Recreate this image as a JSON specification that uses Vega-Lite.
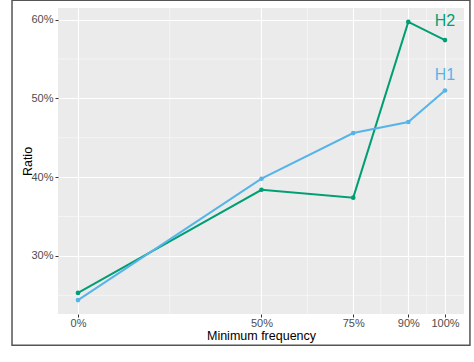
{
  "$schema": "https://vega.github.io/schema/vega-lite/v6.json",
  "width": 406,
  "height": 306,
  "autosize": {"type": "none"},
  "padding": {"left": 58, "top": 8, "right": 10, "bottom": 48},
  "background": "white",
  "config": {
    "view": {"fill": "#EBEBEB", "stroke": null},
    "font": "Liberation Sans",
    "axis": {
      "domain": false,
      "grid": true,
      "gridColor": "white",
      "gridWidth": 1.1,
      "tickColor": "#333333",
      "tickSize": 3,
      "labelColor": "#4D4D4D",
      "labelFontSize": 11,
      "labelFont": "Liberation Sans",
      "titleFont": "Liberation Sans",
      "titleFontSize": 12.5,
      "titleFontWeight": "normal",
      "titleColor": "black"
    }
  },
  "datasets": {
    "main": [
      {"freq": 0.0, "ratio": 0.253, "series": "H2"},
      {"freq": 0.5, "ratio": 0.384, "series": "H2"},
      {"freq": 0.75, "ratio": 0.374, "series": "H2"},
      {"freq": 0.9, "ratio": 0.597, "series": "H2"},
      {"freq": 1.0, "ratio": 0.574, "series": "H2"},
      {"freq": 0.0, "ratio": 0.244, "series": "H1"},
      {"freq": 0.5, "ratio": 0.398, "series": "H1"},
      {"freq": 0.75, "ratio": 0.456, "series": "H1"},
      {"freq": 0.9, "ratio": 0.470, "series": "H1"},
      {"freq": 1.0, "ratio": 0.510, "series": "H1"}
    ],
    "labels": [
      {"freq": 1.0, "ratio": 0.598, "series": "H2"},
      {"freq": 1.0, "ratio": 0.530, "series": "H1"}
    ],
    "minorx": [{"v": 0.25}, {"v": 0.625}, {"v": 0.825}, {"v": 0.95}],
    "minory": [{"v": 0.25}, {"v": 0.35}, {"v": 0.45}, {"v": 0.55}]
  },
  "layer": [
    {
      "data": {"name": "minorx"},
      "mark": {"type": "rule", "color": "white", "strokeWidth": 0.5},
      "encoding": {
        "x": {
          "field": "v", "type": "quantitative",
          "scale": {"domain": [-0.0545, 1.0518], "nice": false, "zero": false},
          "axis": {"values": [0, 0.5, 0.75, 0.9, 1.0], "format": ".0%", "title": "Minimum frequency", "titlePadding": 1, "labelPadding": 0}
        }
      }
    },
    {
      "data": {"name": "minory"},
      "mark": {"type": "rule", "color": "white", "strokeWidth": 0.5},
      "encoding": {
        "y": {
          "field": "v", "type": "quantitative",
          "scale": {"domain": [0.2263, 0.6147], "nice": false, "zero": false},
          "axis": {"values": [0.3, 0.4, 0.5, 0.6], "format": ".0%", "title": "Ratio", "titlePadding": -4, "labelPadding": 2}
        }
      }
    },
    {
      "data": {"name": "main"},
      "mark": {"type": "line", "strokeWidth": 2},
      "encoding": {
        "x": {"field": "freq", "type": "quantitative"},
        "y": {"field": "ratio", "type": "quantitative"},
        "color": {
          "field": "series", "type": "nominal",
          "scale": {"domain": ["H1", "H2"], "range": ["#56B4E9", "#009E73"]},
          "legend": null
        }
      }
    },
    {
      "data": {"name": "main"},
      "mark": {"type": "circle", "size": 22, "opacity": 1},
      "encoding": {
        "x": {"field": "freq", "type": "quantitative"},
        "y": {"field": "ratio", "type": "quantitative"},
        "color": {"field": "series", "type": "nominal"}
      }
    },
    {
      "data": {"name": "labels"},
      "mark": {"type": "text", "fontSize": 16, "align": "center", "baseline": "middle"},
      "encoding": {
        "x": {"field": "freq", "type": "quantitative"},
        "y": {"field": "ratio", "type": "quantitative"},
        "text": {"field": "series"},
        "color": {"field": "series", "type": "nominal"}
      }
    },
    {
      "data": {"values": [{}]},
      "mark": {"type": "rect", "fill": null, "stroke": "#555555", "strokeWidth": 1.5, "clip": false},
      "encoding": {
        "x": {"datum": -0.1798},
        "x2": {"datum": 1.068},
        "y": {"datum": 0.1867},
        "y2": {"datum": 0.6245}
      }
    }
  ]
}
